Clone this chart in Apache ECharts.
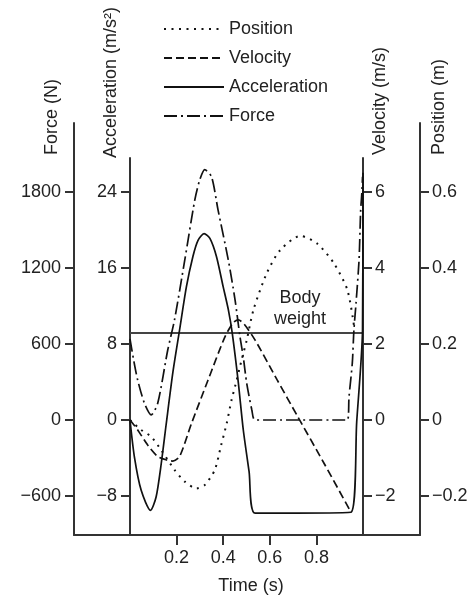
<!DOCTYPE html>
<html>
<head>
<meta charset="utf-8">
<script src="https://cdn.jsdelivr.net/npm/echarts@6/dist/echarts.min.js"></script>
<style>
    html, body { margin: 0; padding: 0; background: #ffffff; }
    #chart { width: 470px; height: 612px; }
</style>
</head>
<body>
<div id="chart"></div>
<script>
// values (time in s)
const positionTime = [0, 0.048, 0.091, 0.134, 0.191, 0.235, 0.285, 0.321, 0.364, 0.39, 0.415, 0.436, 0.458, 0.479, 0.501, 0.53, 0.587, 0.645, 0.731, 0.803, 0.875, 0.933, 0.962];
const positionM = [0, -0.026, -0.044, -0.079, -0.131, -0.162, -0.18, -0.171, -0.131, -0.069, -0.009, 0.053, 0.105, 0.158, 0.21, 0.29, 0.386, 0.447, 0.484, 0.464, 0.412, 0.342, 0.245];

const velocityTime = [0, 0.033, 0.076, 0.119, 0.162, 0.184, 0.213, 0.264, 0.335, 0.407, 0.443, 0.465, 0.49, 0.537, 0.631, 0.717, 0.832, 0.948];
const velocityMs = [0, -0.26, -0.66, -0.96, -1.06, -1.08, -0.96, -0.09, 1.05, 2.18, 2.56, 2.63, 2.52, 2.1, 1.06, 0.12, -1.13, -2.42];

const accelTime = [0, 0.019, 0.048, 0.088, 0.112, 0.134, 0.155, 0.184, 0.213, 0.242, 0.27, 0.292, 0.318, 0.343, 0.371, 0.4, 0.422, 0.439, 0.465, 0.486, 0.511, 0.537, 0.948, 0.973, 0.998, 1.0];
const accelMs2 = [0, -3.9, -7.4, -9.5, -8.1, -4.6, -0.5, 5.0, 9.5, 14.0, 17.2, 18.9, 19.6, 19.1, 17.2, 14.0, 11.6, 9.1, 3.9, -1.0, -5.4, -9.8, -9.7, -0.2, 9.5, 26];

const forceTime = [0, 0.015, 0.033, 0.062, 0.091, 0.119, 0.162, 0.191, 0.235, 0.278, 0.299, 0.321, 0.35, 0.378, 0.422, 0.451, 0.472, 0.486, 0.501, 0.523, 0.537, 0.933, 0.94, 0.954, 0.961, 0.97, 0.983, 0.99, 0.995, 0.998];
const forceN = [640, 480, 315, 132, 40, 132, 552, 789, 1261, 1734, 1892, 1975, 1918, 1656, 1261, 946, 657, 499, 289, 79, 0, 0, 183, 447, 710, 920, 1262, 1656, 1790, 1918];

const bodyWeightN = 686;

const timeTicks = [0.2, 0.4, 0.6, 0.8];
const forceTicks = [-600, 0, 600, 1200, 1800];
const accelTicks = [-8, 0, 8, 16, 24];
const velocityTicks = [-2, 0, 2, 4, 6];
const positionTicks = [-0.2, 0, 0.2, 0.4, 0.6];

const font = "'Liberation Sans', Arial, Helvetica, sans-serif";
const ink = "#222";
const lineColor = "#111";

function pairs(xs, ys) {
    return xs.map((x, i) => [x, ys[i]]);
}

function minus(v) {
    return (v < 0 ? "\u2212" : "") + Math.abs(v);
}

function yAxis(gridIndex, position, min, max, ticks, margin) {
    return {
        type: "value",
        gridIndex,
        position,
        min,
        max,
        axisLine: { show: true, onZero: false, lineStyle: { color: "#333", width: 2 } },
        axisTick: { show: true, length: 9, customValues: ticks, lineStyle: { color: "#333", width: 2 } },
        axisLabel: {
            customValues: ticks,
            margin,
            fontSize: 18,
            fontFamily: font,
            color: ink,
            formatter: minus,
        },
        splitLine: { show: false },
    };
}

function curve(name, xAxisIndex, yAxisIndex, xs, ys, width, dash) {
    return {
        name,
        type: "line",
        xAxisIndex,
        yAxisIndex,
        symbol: "none",
        smooth: 0.25,
        data: pairs(xs, ys),
        itemStyle: { color: lineColor },
        lineStyle: { color: lineColor, width, type: dash },
    };
}

const chart = echarts.init(document.getElementById("chart"), null, { renderer: "canvas" });

const option = {
    animation: false,
    backgroundColor: "#ffffff",
    textStyle: { fontFamily: font },
    grid: [
        // outer frame: force / position axes
        { left: 74, right: 50, top: 123, bottom: 77, outerBoundsMode: "none" },
        // inner frame: acceleration / velocity axes, time 0..1
        { left: 130, right: 107, top: 158, bottom: 77, outerBoundsMode: "none" },
    ],
    legend: {
        orient: "vertical",
        left: 158,
        top: 15,
        itemWidth: 60,
        itemHeight: 14,
        itemGap: 11,
        selectedMode: false,
        data: ["Position", "Velocity", "Acceleration", "Force"],
        itemStyle: { opacity: 0 },
        textStyle: { fontSize: 18, color: ink, fontFamily: font, lineHeight: 18 },
    },
    xAxis: [
        {
            type: "value",
            gridIndex: 0,
            min: -0.2403,
            max: 1.2446,
            name: "Time (s)",
            nameLocation: "middle",
            nameGap: 42,
            nameTextStyle: { fontSize: 18, color: ink, fontFamily: font, padding: [0, 0, 0, 8] },
            axisLine: { show: true, onZero: false, lineStyle: { color: "#333", width: 2 } },
            axisTick: { show: true, length: 10, customValues: timeTicks, lineStyle: { color: "#333", width: 2 } },
            axisLabel: { customValues: timeTicks, margin: 14, fontSize: 18, fontFamily: font, color: ink, formatter: minus },
            splitLine: { show: false },
        },
        { type: "value", gridIndex: 1, min: 0, max: 1, show: false },
    ],
    yAxis: [
        yAxis(0, "left", -907.1, 2342.6, forceTicks, 13),
        yAxis(0, "right", -0.30236, 0.78087, positionTicks, 12),
        yAxis(1, "left", -12.094, 27.554, accelTicks, 13),
        yAxis(1, "right", -3.0236, 6.8885, velocityTicks, 12),
    ],
    graphic: [
        { type: "text", x: 52, y: 155, rotation: Math.PI / 2, style: { text: "Force (N)", font: "18px " + font, fill: ink, align: "left", verticalAlign: "middle" } },
        { type: "text", x: 111, y: 158, rotation: Math.PI / 2, style: { text: "Acceleration (m/s\u00b2)", font: "18px " + font, fill: ink, align: "left", verticalAlign: "middle" } },
        { type: "text", x: 380, y: 155, rotation: Math.PI / 2, style: { text: "Velocity (m/s)", font: "18px " + font, fill: ink, align: "left", verticalAlign: "middle" } },
        { type: "text", x: 439, y: 155, rotation: Math.PI / 2, style: { text: "Position (m)", font: "18px " + font, fill: ink, align: "left", verticalAlign: "middle" } },
        { type: "text", x: 300, y: 309, style: { text: "Body\nweight", font: "18px " + font, fill: ink, align: "center", verticalAlign: "middle", lineHeight: 21 } },
    ],
    series: [
        {
            name: "Body weight",
            type: "line",
            xAxisIndex: 0,
            yAxisIndex: 0,
            symbol: "none",
            data: [[0, bodyWeightN], [1, bodyWeightN]],
            lineStyle: { color: "#444", width: 2 },
        },
        curve("Position", 0, 1, positionTime, positionM, 2, [2, 5.5]),
        curve("Velocity", 1, 3, velocityTime, velocityMs, 1.7, [8, 4]),
        curve("Acceleration", 1, 2, accelTime, accelMs2, 1.7, "solid"),
        curve("Force", 0, 0, forceTime, forceN, 1.7, [13, 4, 2, 4]),
    ],
};

chart.setOption(option);
window.addEventListener("resize", () => chart.resize());
</script>
</body>
</html>
